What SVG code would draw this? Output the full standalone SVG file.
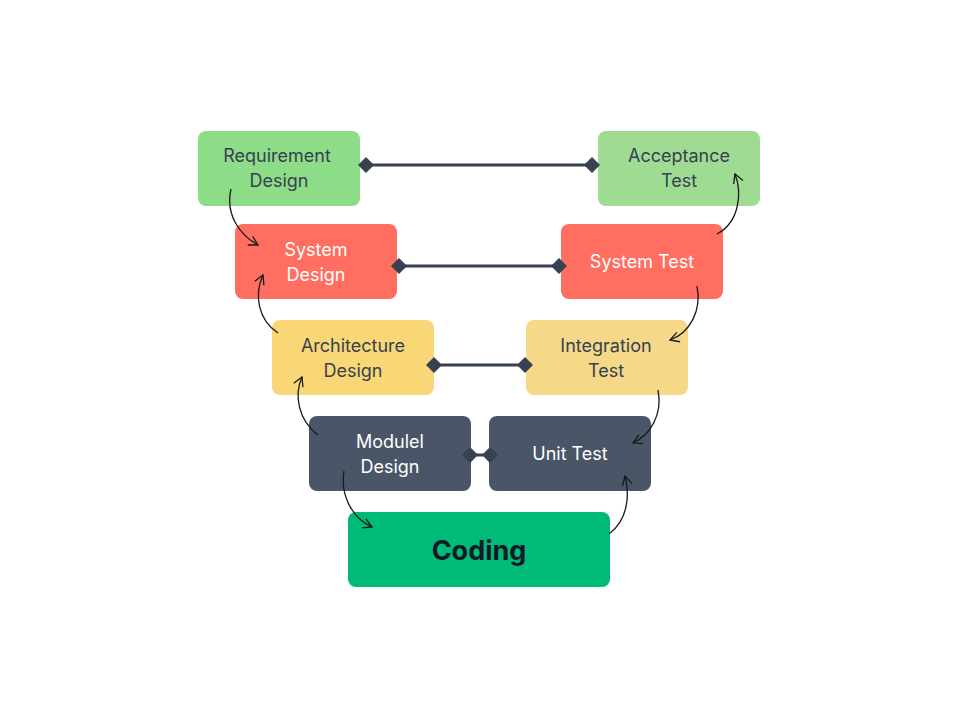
<svg xmlns="http://www.w3.org/2000/svg" width="960" height="720" viewBox="0 0 960 720">
<style>
.t{font-family:Inter,"Liberation Sans",sans-serif;font-size:18px;text-anchor:middle}
.d{fill:#374151}.w{fill:#ffffff}
.ln{stroke:#374151;stroke-width:3;fill:none}
.cv{stroke:#1a1a1a;stroke-width:1.3;fill:none;marker-end:url(#ah)}
</style>
<defs>
<marker id="ah" viewBox="0 0 12 12" refX="10" refY="6" markerWidth="12" markerHeight="12" markerUnits="userSpaceOnUse" orient="auto"><path d="M1,1 L10,6 L1,11" fill="none" stroke="#1a1a1a" stroke-width="1.3"/></marker>
<marker id="dm" viewBox="0 0 16 16" refX="8" refY="8" markerWidth="16" markerHeight="16" markerUnits="userSpaceOnUse" orient="auto"><path d="M0,8 L8,0 L16,8 L8,16Z" fill="#374151"/></marker>
</defs>
<rect width="960" height="720" fill="#fff"/>
<g id="req"><rect x="198" y="131" width="162" height="75" rx="8" fill="#8ddc88"/><text class="t d" x="277" y="162">Requirement</text><text class="t d" x="279" y="187">Design</text></g>
<g id="sysd"><rect x="235" y="224" width="162" height="75" rx="8" fill="#ff6e61"/><text class="t w" x="316" y="256">System</text><text class="t w" x="316" y="281">Design</text></g>
<g id="arch"><rect x="272" y="320" width="162" height="75" rx="8" fill="#f9d776"/><text class="t d" x="353" y="352">Architecture</text><text class="t d" x="353" y="377">Design</text></g>
<g id="mod"><rect x="309" y="416" width="162" height="75" rx="8" fill="#4b5568"/><text class="t w" x="390" y="448">Modulel</text><text class="t w" x="390" y="473">Design</text></g>
<g id="coding"><rect x="348" y="512" width="262" height="75" rx="8" fill="#00bb77"/><text x="479" y="560" style="font-family:Inter,'Liberation Sans',sans-serif;font-size:27px;font-weight:bold;text-anchor:middle" fill="#111827">Coding</text></g>
<g id="acc"><rect x="598" y="131" width="162" height="75" rx="8" fill="#9fdb92"/><text class="t d" x="679" y="162">Acceptance</text><text class="t d" x="679" y="187">Test</text></g>
<g id="syst"><rect x="561" y="224" width="162" height="75" rx="8" fill="#ff6e61"/><text class="t w" x="642" y="268">System Test</text></g>
<g id="integ"><rect x="526" y="320" width="162" height="75" rx="8" fill="#f5d888"/><text class="t d" x="606" y="352">Integration</text><text class="t d" x="606" y="377">Test</text></g>
<g id="unit"><rect x="489" y="416" width="162" height="75" rx="8" fill="#4b5568"/><text class="t w" x="570" y="460">Unit Test</text></g>
<g id="connectors">
<path class="ln" d="M366,165 H592" marker-start="url(#dm)" marker-end="url(#dm)"/>
<path class="ln" d="M399,266 H559" marker-start="url(#dm)" marker-end="url(#dm)"/>
<path class="ln" d="M434,365 H525" marker-start="url(#dm)" marker-end="url(#dm)"/>
<path class="ln" d="M470,455 H490" marker-start="url(#dm)" marker-end="url(#dm)"/>
<path class="cv" d="M231,189 C225,215 240,235 258,245"/>
<path class="cv" d="M278,333 C258,320 254,295 263,275"/>
<path class="cv" d="M318,435 C298,420 294,395 302,377"/>
<path class="cv" d="M344,471 C340,495 352,518 372,527"/>
<path class="cv" d="M609,534 C628,520 630,495 625,476"/>
<path class="cv" d="M658,390 C663,415 650,435 633,443"/>
<path class="cv" d="M697,286 C702,310 690,333 670,340"/>
<path class="cv" d="M717,234 C740,222 742,192 735,174"/>
</g>
</svg>
